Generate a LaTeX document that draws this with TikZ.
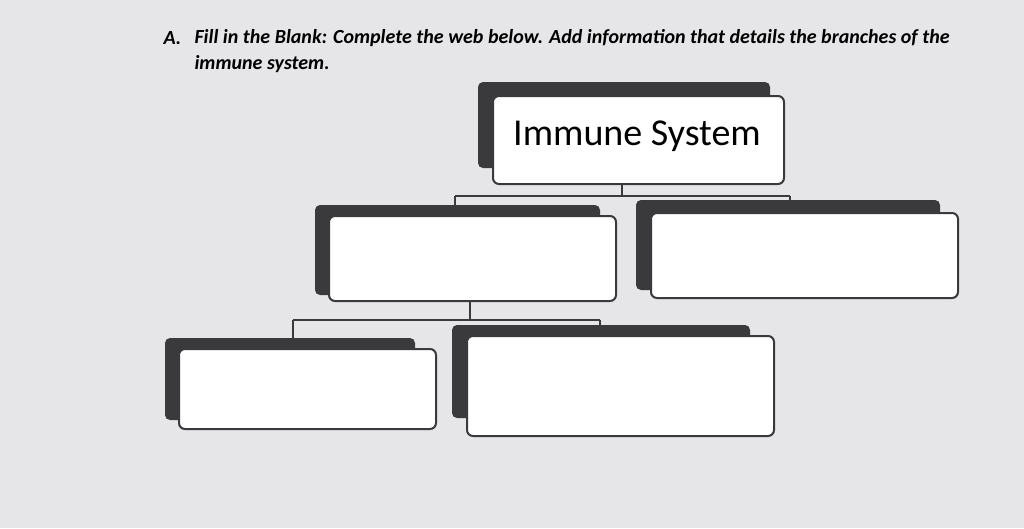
\documentclass[tikz,border=0pt]{standalone}
\usepackage{fontspec}
\setmainfont{Carlito}
\definecolor{paper}{HTML}{E6E6E8}
\definecolor{shade}{HTML}{3A3A3C}
\begin{document}
\begin{tikzpicture}[x=1pt,y=-1pt,
  shadowbox/.style={fill=shade,rounded corners=5pt},
  whitebox/.style={draw=shade,line width=2pt,fill=white,rounded corners=6pt,inner sep=0pt,anchor=north west},
  conn/.style={draw=shade,line width=2pt}]
\fill[paper] (0,0) rectangle (1024,528);
\useasboundingbox (0,0) rectangle (1024,528);
\node[anchor=west,font=\bfseries\itshape\fontsize{20}{24}\selectfont] (qa) at (160,38) {A.};
\node[anchor=west,font=\bfseries\itshape\fontsize{20}{24}\selectfont] (q1) at (191,38) {Fill in the Blank: Complete the web below. Add information that details the branches of the};
\node[anchor=west,font=\bfseries\itshape\fontsize{20}{24}\selectfont] (q2) at (191,64) {immune system.};
% shadows
\fill[shadowbox] (478,82) rectangle (770,168);
\fill[shadowbox] (315,205) rectangle (600,295);
\fill[shadowbox] (636,200) rectangle (940,290);
\fill[shadowbox] (165,338) rectangle (415,420);
\fill[shadowbox] (452,325) rectangle (750,418);
% boxes
\node[whitebox,minimum width=291pt,minimum height=88pt] (top) at (492,95) {};
\node[font=\fontsize{38}{42}\selectfont] (toplab) at (637,136) {Immune System};
\node[whitebox,minimum width=287pt,minimum height=85pt] (ml) at (328,215) {};
\node[whitebox,minimum width=307pt,minimum height=85pt] (mr) at (650,212) {};
\node[whitebox,minimum width=257pt,minimum height=80pt] (bl) at (178,348) {};
\node[whitebox,minimum width=307pt,minimum height=100pt] (br) at (466,335) {};
% connectors
\coordinate (j1) at (622,196);
\coordinate (j1l) at (455,196);
\coordinate (j1r) at (790,196);
\draw[conn] (top.south -| j1) -- (j1);
\draw[conn] (j1l) -- (j1r);
\draw[conn] (j1l) -- (455,208);
\draw[conn] (j1r) -- (790,204);
\coordinate (j2) at (470,320);
\coordinate (j2l) at (293,320);
\coordinate (j2r) at (600,320);
\draw[conn] (ml.south -| j2) -- (j2);
\draw[conn] (j2l) -- (j2r);
\draw[conn] (j2l) -- (293,340);
\draw[conn] (j2r) -- (600,328);
\end{tikzpicture}
\end{document}
